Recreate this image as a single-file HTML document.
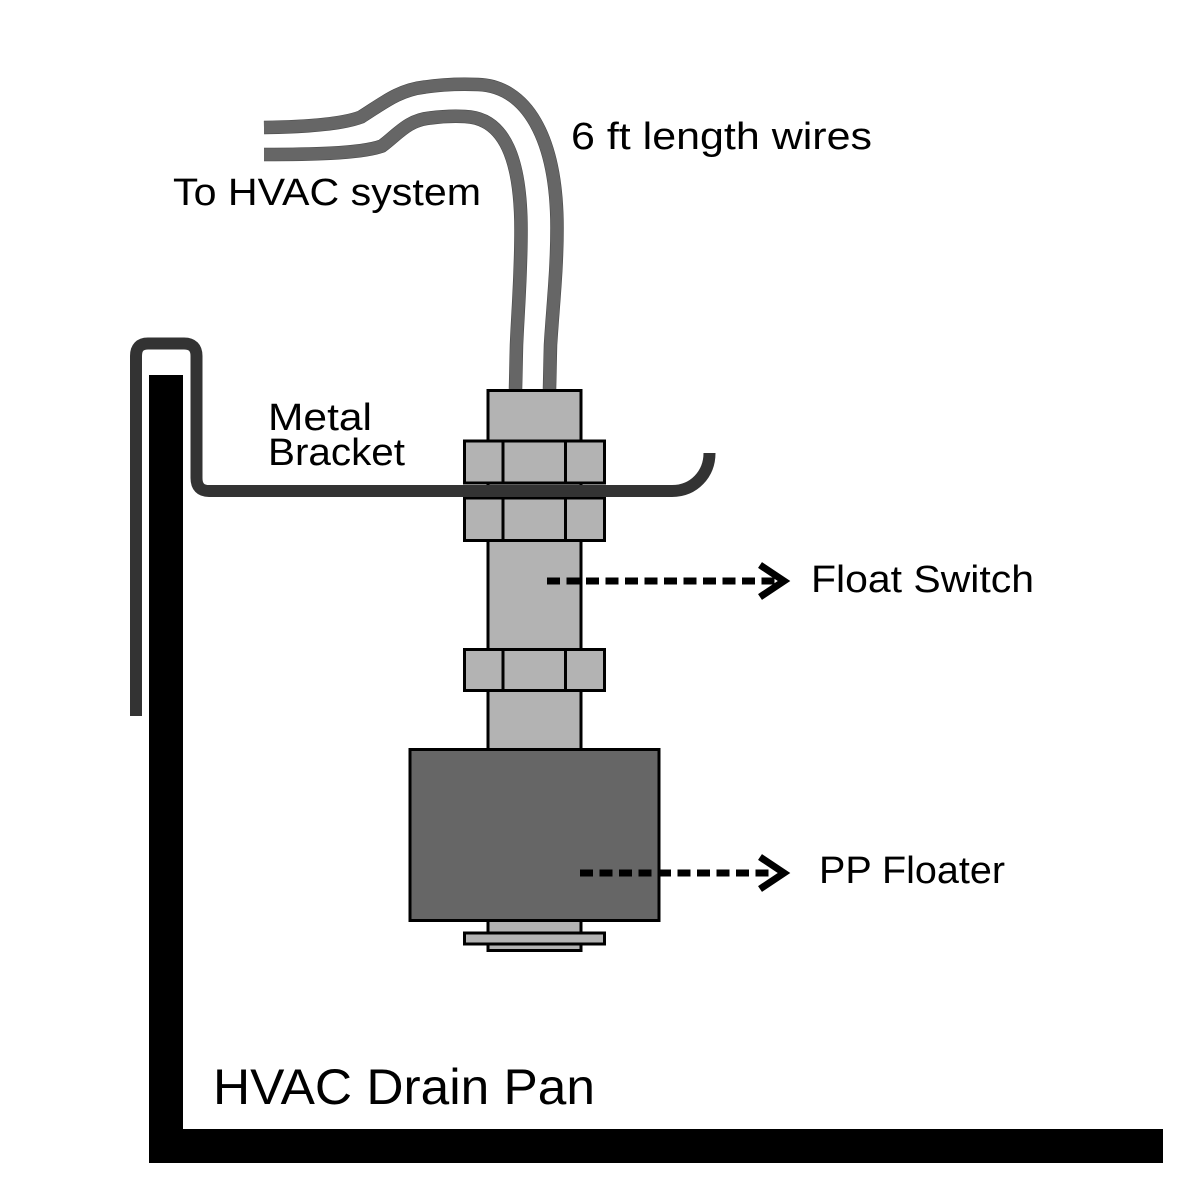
<!DOCTYPE html>
<html>
<head>
<meta charset="utf-8">
<style>
html,body{margin:0;padding:0;background:#fff;width:1200px;height:1200px;overflow:hidden}
svg{display:block}
text{font-family:"Liberation Sans",sans-serif;fill:#000}
</style>
</head>
<body>
<svg width="1200" height="1200" viewBox="0 0 1200 1200" xmlns="http://www.w3.org/2000/svg">
<rect width="1200" height="1200" fill="#fff"/>
<!-- pan -->
<path d="M149 375H183V1129H1163V1163H149Z" fill="#000"/>
<!-- wires -->
<g fill="none" stroke-linecap="butt">
<path d="M264 127.500C300 127 340 125 361 117C382 104 398 90 425 87C445 84 465 84 478 84.500C525 86 557 135 557 228C557 270 553 305 550.500 345L549.500 389" stroke="#444" stroke-width="13.500"/>
<path d="M264 127.500C300 127 340 125 361 117C382 104 398 90 425 87C445 84 465 84 478 84.500C525 86 557 135 557 228C557 270 553 305 550.500 345L549.500 389" stroke="#666" stroke-width="12.500"/>
<path d="M264 154.500C305 154.500 360 154 382 146C398 134 408 120 430 118C445 116 455 116 465 116.500C505 118 521 160 521 230C521 275 518 310 516.500 345L515.500 389" stroke="#444" stroke-width="13.500"/>
<path d="M264 154.500C305 154.500 360 154 382 146C398 134 408 120 430 118C445 116 455 116 465 116.500C505 118 521 160 521 230C521 275 518 310 516.500 345L515.500 389" stroke="#666" stroke-width="12.500"/>
</g>
<!-- switch body -->
<g fill="#b3b3b3" stroke="#000" stroke-width="3">
<rect x="488" y="390.500" width="93" height="560"/>
<rect x="464.500" y="441" width="140" height="42"/>
<path d="M503 441V483M565.500 441V483" fill="none"/>
<rect x="464.500" y="498" width="140" height="42.500"/>
<path d="M503 498V540M565.500 498V540" fill="none"/>
<rect x="464.500" y="649.500" width="140" height="41"/>
<path d="M503 650V690M565.500 650V690" fill="none"/>
</g>
<!-- float -->
<rect x="410" y="749.500" width="249" height="171" fill="#666" stroke="#000" stroke-width="3"/>
<rect x="464.500" y="933" width="140" height="11" fill="#b3b3b3" stroke="#000" stroke-width="3"/>
<!-- bracket -->
<path d="M136 716V356Q136 343.500 148 343.500H184Q196.500 343.500 196.500 356V478Q196.500 491 209 491H672C694 491 709.500 474 709.500 453" fill="none" stroke="#333" stroke-width="12"/>
<!-- arrows -->
<g fill="none" stroke="#000">
<path d="M547 581H782" stroke-width="7" stroke-dasharray="13 6.500"/>
<path d="M760 565L784 581L760 597" stroke-width="7"/>
<path d="M580 873H770" stroke-width="7" stroke-dasharray="13 6.500"/>
<path d="M760 857L784 873L760 889" stroke-width="7"/>
</g>
<!-- labels -->
<text x="571" y="149" font-size="38" textLength="301" lengthAdjust="spacingAndGlyphs">6 ft length wires</text>
<text x="173" y="205" font-size="38" textLength="308" lengthAdjust="spacingAndGlyphs">To HVAC system</text>
<text x="268" y="430" font-size="38" textLength="104" lengthAdjust="spacingAndGlyphs">Metal</text>
<text x="268" y="465" font-size="38" textLength="137" lengthAdjust="spacingAndGlyphs">Bracket</text>
<text x="811" y="592" font-size="38" textLength="223" lengthAdjust="spacingAndGlyphs">Float Switch</text>
<text x="819" y="883" font-size="38" textLength="186" lengthAdjust="spacingAndGlyphs">PP Floater</text>
<text x="213" y="1104" font-size="50" textLength="382" lengthAdjust="spacingAndGlyphs">HVAC Drain Pan</text>
</svg>
</body>
</html>
